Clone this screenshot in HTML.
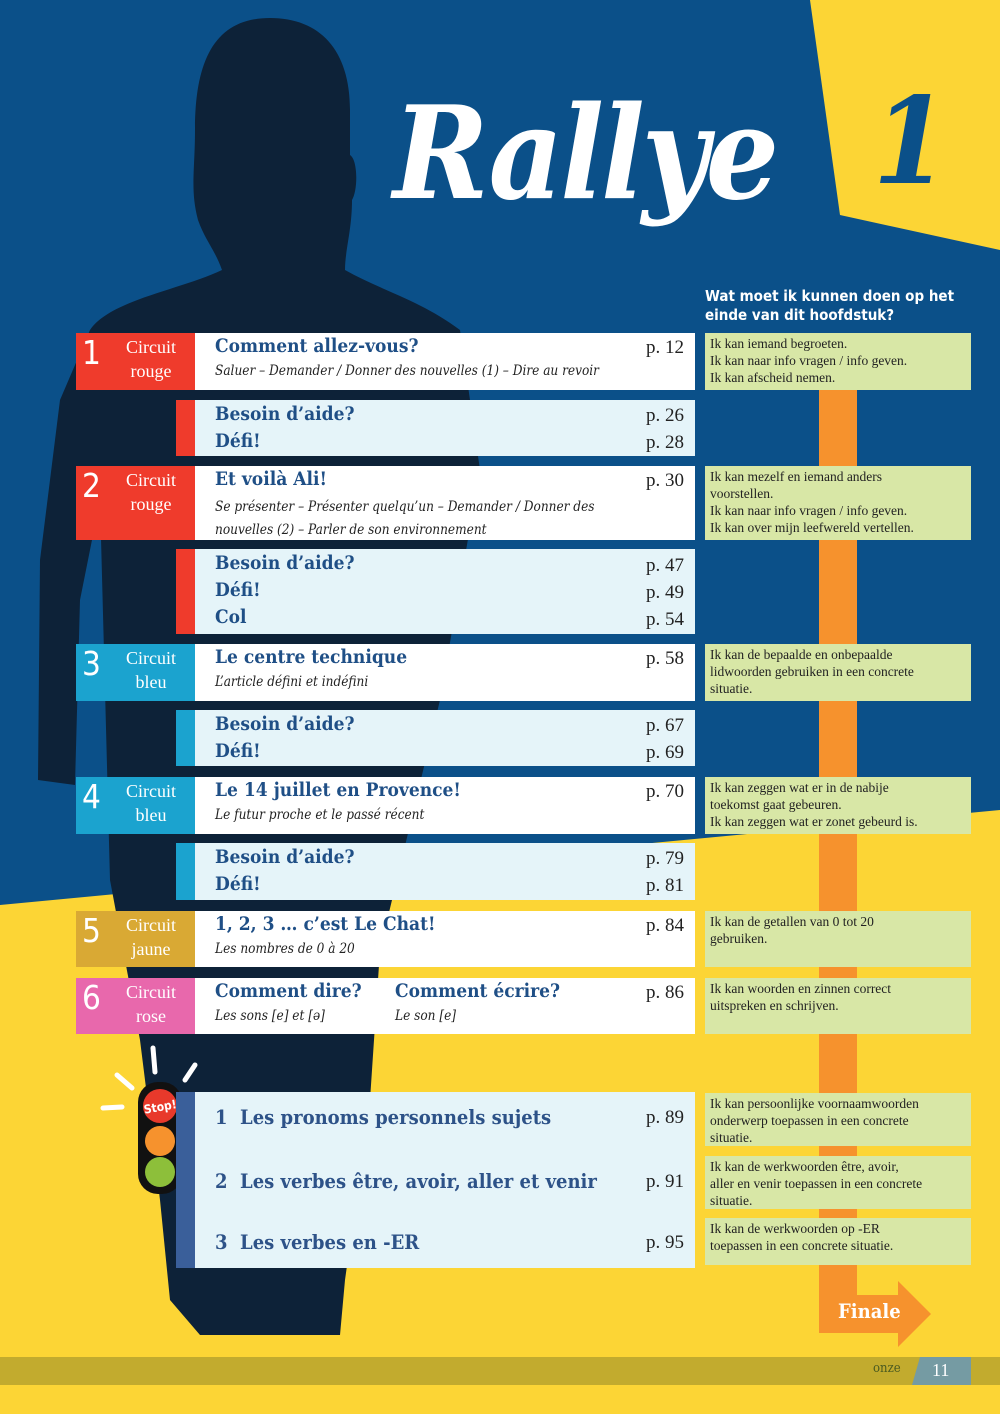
<!DOCTYPE html>
<html><head><meta charset="utf-8"><style>
*{margin:0;padding:0;box-sizing:border-box}
body{width:1000px;height:1414px;position:relative;overflow:hidden;background:#fcd535;font-family:"Liberation Sans",sans-serif}
.a{position:absolute}
.h{font-family:"DejaVu Serif Condensed","DejaVu Serif",serif;font-weight:bold;color:#1f4f86;font-size:19px;white-space:nowrap}
.s{font-family:"DejaVu Serif Condensed","DejaVu Serif",serif;font-style:italic;color:#222;font-size:13.5px;white-space:nowrap}
.p{font-family:"Liberation Serif",serif;color:#222;font-size:19px;white-space:nowrap}
.lab{color:#fff}
.lab .n{position:absolute;left:6px;top:0;font-size:33px;font-family:"DejaVu Sans Condensed","DejaVu Sans",sans-serif}
.lab .c{position:absolute;left:40px;width:70px;text-align:center;top:2px;font-family:"Liberation Serif",serif;font-size:18px;line-height:24px}
.g{background:#d8e7a6;font-family:"Liberation Serif",serif;font-size:13.5px;line-height:17px;color:#222;padding:2px 5px}
.w{background:#fff}
.lb{background:#e5f4f9}
</style></head><body>
<svg class="a" style="left:0;top:0" width="1000" height="1414">
<polygon points="0,0 1000,0 1000,810 0,905" fill="#0b5089"/>
<polygon points="810,0 1000,0 1000,250 840,215" fill="#fcd535"/>
<path fill="#0d2238" d="M270,18 C215,18 195,60 195,130 C195,170 190,190 198,220 C205,240 215,250 222,270 C180,290 110,300 90,330 L60,400 L40,560 L38,780 L75,785 L80,600 L100,500 L110,880 L140,1040 L160,1200 L170,1300 L200,1335 L340,1335 L345,1280 L370,1100 L380,950 L440,700 L480,470 L460,330 C420,300 380,290 345,270 C345,250 352,230 352,200 C358,190 358,160 350,155 L350,110 C350,50 320,18 270,18 Z"/>
<rect x="819" y="380" width="38" height="953" fill="#f6922d"/>
<polygon points="819,1295 898,1295 898,1281 931,1314 898,1347 898,1333 819,1333" fill="#f6922d"/>
<rect x="0" y="1357" width="1000" height="28" fill="#c2ab2e"/>
<polygon points="920,1357 971,1357 971,1385 912,1385" fill="#759ba3"/>
<g stroke="#fff" stroke-width="5" stroke-linecap="round">
<line x1="153" y1="1048" x2="155" y2="1072"/><line x1="117" y1="1075" x2="132" y2="1088"/><line x1="103" y1="1108" x2="122" y2="1107"/><line x1="195" y1="1065" x2="185" y2="1080"/><line x1="188" y1="1102" x2="200" y2="1101"/></g>
<rect x="138" y="1082" width="44" height="112" rx="20" fill="#111"/>
<circle cx="160" cy="1106" r="17" fill="#e8392b"/>
<circle cx="160" cy="1141" r="15" fill="#f6922d"/>
<circle cx="160" cy="1172" r="15" fill="#8dbf3a"/>
<text x="160" y="1111" fill="#fff" font-family="DejaVu Sans Condensed" font-weight="bold" font-size="12" text-anchor="middle" transform="rotate(-10 160 1106)">Stop!</text>
</svg>
<div class="a" style="left:393px;top:90px;font-family:'DejaVu Serif Condensed','DejaVu Serif',serif;font-weight:bold;font-style:italic;font-size:128px;color:#fff;line-height:1;letter-spacing:-3px">Rallye</div>
<div class="a" style="left:873px;top:82px;font-family:'DejaVu Serif Condensed','DejaVu Serif',serif;font-weight:bold;font-style:italic;font-size:120px;color:#0b5089;line-height:1">1</div>
<div class="a" style="left:705px;top:287px;font-family:'DejaVu Sans Condensed','DejaVu Sans',sans-serif;font-weight:bold;font-size:15px;line-height:19px;color:#fff">Wat moet ik kunnen doen op het<br>einde van dit hoofdstuk?</div>

<div class="a lab" style="left:76px;top:333px;width:119px;height:57px;background:#ef3b2c"><span class="n">1</span><span class="c">Circuit<br>rouge</span></div>
<div class="a w" style="left:195px;top:333px;width:500px;height:57px"></div>
<div class="a h" style="left:215px;top:335px">Comment allez-vous?</div>
<div class="a s" style="left:215px;top:363px">Saluer – Demander / Donner des nouvelles (1) – Dire au revoir</div>
<div class="a p" style="left:646px;top:337px">p. 12</div>
<div class="a g" style="left:705px;top:333px;width:266px;height:57px">Ik kan iemand begroeten.<br>Ik kan naar info vragen / info geven.<br>Ik kan afscheid nemen.</div>
<div class="a" style="left:176px;top:400px;width:19px;height:56px;background:#ef3b2c"></div>
<div class="a lb" style="left:195px;top:400px;width:500px;height:56px"></div>
<div class="a h" style="left:215px;top:401px;line-height:27px">Besoin d’aide?<br>Défi!</div>
<div class="a p" style="left:646px;top:402px;line-height:27px">p. 26<br>p. 28</div>

<div class="a lab" style="left:76px;top:466px;width:119px;height:74px;background:#ef3b2c"><span class="n">2</span><span class="c">Circuit<br>rouge</span></div>
<div class="a w" style="left:195px;top:466px;width:500px;height:74px"></div>
<div class="a h" style="left:215px;top:468px">Et voilà Ali!</div>
<div class="a s" style="left:215px;top:496px;line-height:23px">Se présenter – Présenter quelqu’un – Demander / Donner des<br>nouvelles (2) – Parler de son environnement</div>
<div class="a p" style="left:646px;top:470px">p. 30</div>
<div class="a g" style="left:705px;top:466px;width:266px;height:74px">Ik kan mezelf en iemand anders<br>voorstellen.<br>Ik kan naar info vragen / info geven.<br>Ik kan over mijn leefwereld vertellen.</div>
<div class="a" style="left:176px;top:549px;width:19px;height:85px;background:#ef3b2c"></div>
<div class="a lb" style="left:195px;top:549px;width:500px;height:85px"></div>
<div class="a h" style="left:215px;top:550px;line-height:27px">Besoin d’aide?<br>Défi!<br>Col</div>
<div class="a p" style="left:646px;top:552px;line-height:27px">p. 47<br>p. 49<br>p. 54</div>

<div class="a lab" style="left:76px;top:644px;width:119px;height:57px;background:#1ba3cf"><span class="n">3</span><span class="c">Circuit<br>bleu</span></div>
<div class="a w" style="left:195px;top:644px;width:500px;height:57px"></div>
<div class="a h" style="left:215px;top:646px">Le centre technique</div>
<div class="a s" style="left:215px;top:674px">L’article défini et indéfini</div>
<div class="a p" style="left:646px;top:648px">p. 58</div>
<div class="a g" style="left:705px;top:644px;width:266px;height:57px">Ik kan de bepaalde en onbepaalde<br>lidwoorden gebruiken in een concrete<br>situatie.</div>
<div class="a" style="left:176px;top:710px;width:19px;height:56px;background:#1ba3cf"></div>
<div class="a lb" style="left:195px;top:710px;width:500px;height:56px"></div>
<div class="a h" style="left:215px;top:711px;line-height:27px">Besoin d’aide?<br>Défi!</div>
<div class="a p" style="left:646px;top:712px;line-height:27px">p. 67<br>p. 69</div>

<div class="a lab" style="left:76px;top:777px;width:119px;height:57px;background:#1ba3cf"><span class="n">4</span><span class="c">Circuit<br>bleu</span></div>
<div class="a w" style="left:195px;top:777px;width:500px;height:57px"></div>
<div class="a h" style="left:215px;top:779px">Le 14 juillet en Provence!</div>
<div class="a s" style="left:215px;top:807px">Le futur proche et le passé récent</div>
<div class="a p" style="left:646px;top:781px">p. 70</div>
<div class="a g" style="left:705px;top:777px;width:266px;height:57px">Ik kan zeggen wat er in de nabije<br>toekomst gaat gebeuren.<br>Ik kan zeggen wat er zonet gebeurd is.</div>
<div class="a" style="left:176px;top:843px;width:19px;height:57px;background:#1ba3cf"></div>
<div class="a lb" style="left:195px;top:843px;width:500px;height:57px"></div>
<div class="a h" style="left:215px;top:844px;line-height:27px">Besoin d’aide?<br>Défi!</div>
<div class="a p" style="left:646px;top:845px;line-height:27px">p. 79<br>p. 81</div>

<div class="a lab" style="left:76px;top:911px;width:119px;height:56px;background:#d9a934"><span class="n">5</span><span class="c">Circuit<br>jaune</span></div>
<div class="a w" style="left:195px;top:911px;width:500px;height:56px"></div>
<div class="a h" style="left:215px;top:913px">1, 2, 3 … c’est Le Chat!</div>
<div class="a s" style="left:215px;top:941px">Les nombres de 0 à 20</div>
<div class="a p" style="left:646px;top:915px">p. 84</div>
<div class="a g" style="left:705px;top:911px;width:266px;height:56px">Ik kan de getallen van 0 tot 20<br>gebruiken.</div>

<div class="a lab" style="left:76px;top:978px;width:119px;height:56px;background:#e868ac"><span class="n">6</span><span class="c">Circuit<br>rose</span></div>
<div class="a w" style="left:195px;top:978px;width:500px;height:56px"></div>
<div class="a h" style="left:215px;top:980px">Comment dire?</div>
<div class="a h" style="left:395px;top:980px">Comment écrire?</div>
<div class="a s" style="left:215px;top:1008px">Les sons [e] et [ə]</div>
<div class="a s" style="left:395px;top:1008px">Le son [e]</div>
<div class="a p" style="left:646px;top:982px">p. 86</div>
<div class="a g" style="left:705px;top:978px;width:266px;height:56px">Ik kan woorden en zinnen correct<br>uitspreken en schrijven.</div>

<div class="a" style="left:176px;top:1092px;width:19px;height:176px;background:#3a5f9a"></div>
<div class="a lb" style="left:195px;top:1092px;width:500px;height:176px"></div>
<div class="a h" style="left:215px;top:1105px;font-size:20px;color:#2d5288">1&nbsp; Les pronoms personnels sujets</div>
<div class="a h" style="left:215px;top:1169px;font-size:20px;color:#2d5288">2&nbsp; Les verbes être, avoir, aller et venir</div>
<div class="a h" style="left:215px;top:1230px;font-size:20px;color:#2d5288">3&nbsp; Les verbes en -ER</div>
<div class="a p" style="left:646px;top:1107px">p. 89</div>
<div class="a p" style="left:646px;top:1171px">p. 91</div>
<div class="a p" style="left:646px;top:1232px">p. 95</div>
<div class="a g" style="left:705px;top:1093px;width:266px;height:53px">Ik kan persoonlijke voornaamwoorden<br>onderwerp toepassen in een concrete<br>situatie.</div>
<div class="a g" style="left:705px;top:1156px;width:266px;height:53px">Ik kan de werkwoorden être, avoir,<br>aller en venir toepassen in een concrete<br>situatie.</div>
<div class="a g" style="left:705px;top:1218px;width:266px;height:47px">Ik kan de werkwoorden op -ER<br>toepassen in een concrete situatie.</div>

<div class="a" style="left:838px;top:1299px;font-family:'DejaVu Serif Condensed','DejaVu Serif',serif;font-weight:bold;font-size:20px;color:#fff">Finale</div>
<div class="a" style="left:873px;top:1361px;font-family:'DejaVu Serif Condensed','DejaVu Serif',serif;font-size:13px;color:#4a5a20">onze</div>
<div class="a" style="left:932px;top:1360px;font-family:'Liberation Serif',serif;font-size:18px;color:#fff">11</div>
</body></html>
